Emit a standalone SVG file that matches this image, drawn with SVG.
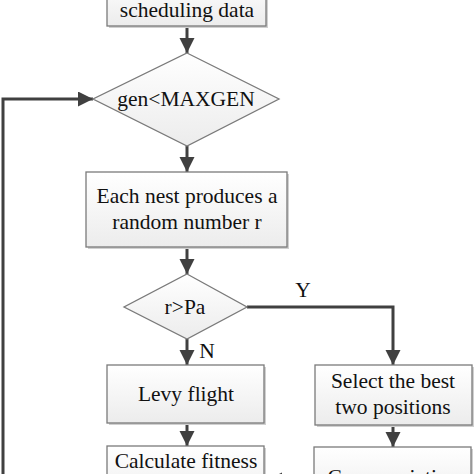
<svg xmlns="http://www.w3.org/2000/svg" width="474" height="474" viewBox="0 0 474 474">
<defs>
<linearGradient id="g" x1="0" y1="0" x2="0" y2="1">
<stop offset="0" stop-color="#ffffff"/>
<stop offset="1" stop-color="#ececec"/>
</linearGradient>
<marker id="ah" markerUnits="userSpaceOnUse" markerWidth="16" markerHeight="16" refX="15" refY="7.5" orient="auto">
<path d="M0,0 L15,7.5 L0,15 Z" fill="#404040"/>
</marker>
<style>
.n{fill:url(#g);stroke:#7a7a7a;stroke-width:1.3}
.s{fill:#d0d0d0;stroke:none}
.t{font-family:"Liberation Serif","Times New Roman",serif;font-size:21.5px;fill:#111;text-anchor:middle}
.c{fill:none;stroke:#404040;stroke-width:3}
.a{marker-end:url(#ah)}
</style>
</defs>
<rect width="474" height="474" fill="#ffffff"/>
<g id="connectors">
<line class="c a" x1="187" y1="26" x2="187" y2="53"/>
<polyline class="c a" points="3,474 3,99 93,99"/>
<line class="c a" x1="187" y1="146" x2="187" y2="172"/>
<line class="c a" x1="187" y1="247" x2="187" y2="274"/>
<polyline class="c a" points="247,307 393,307 393,365"/>
<line class="c a" x1="187" y1="339" x2="187" y2="365"/>
<line class="c a" x1="187" y1="423" x2="187" y2="446"/>
<line class="c a" x1="393" y1="425" x2="393" y2="447"/>
<line class="c a" x1="314" y1="480" x2="267" y2="480"/>
<text class="t" x="303" y="297">Y</text>
<text class="t" x="207" y="358">N</text>
</g>
<g id="start">
<rect class="s" x="109" y="-20" width="159" height="48"/>
<rect class="n" x="107" y="-22" width="159" height="48"/>
<text class="t" x="187" y="17">scheduling data</text>
</g>
<g id="cond1">
<polygon class="n" points="187,53 279,99 187,146 93,99"/>
<text class="t" x="186" y="106">gen&lt;MAXGEN</text>
</g>
<g id="random">
<rect class="s" x="88" y="174" width="201" height="75"/>
<rect class="n" x="86" y="172" width="201" height="75"/>
<text class="t" x="187" y="203">Each nest produces a</text>
<text class="t" x="187" y="229">random number r</text>
</g>
<g id="cond2">
<polygon class="n" points="187,274 247,307 187,339 124,307"/>
<text class="t" x="185" y="314">r&gt;Pa</text>
</g>
<g id="levy">
<rect class="s" x="109" y="367" width="157" height="58"/>
<rect class="n" x="107" y="365" width="157" height="58"/>
<text class="t" x="186" y="401">Levy flight</text>
</g>
<g id="select">
<rect class="s" x="317" y="367" width="157" height="60"/>
<rect class="n" x="315" y="365" width="157" height="60"/>
<text class="t" x="393" y="388">Select the best</text>
<text class="t" x="393" y="414">two positions</text>
</g>
<g id="fitness">
<rect class="s" x="109" y="448" width="157" height="58"/>
<rect class="n" x="107" y="446" width="157" height="58"/>
<text class="t" x="186" y="468">Calculate fitness</text>
</g>
<g id="cross">
<rect class="s" x="316" y="449" width="157" height="58"/>
<rect class="n" x="314" y="447" width="157" height="58"/>
<text class="t" x="393" y="484">Cross variation</text>
</g>
</svg>
